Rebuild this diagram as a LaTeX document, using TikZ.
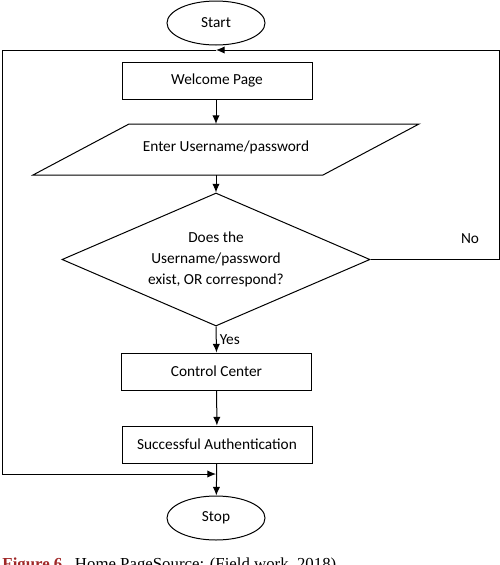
\documentclass[tikz,border=0pt]{standalone}
\usepackage{fontspec}
\setmainfont{Carlito}
\newfontfamily\capfont{Liberation Serif}
\usetikzlibrary{shapes.geometric,arrows.meta}
\definecolor{capred}{RGB}{160,40,40}

\begin{document}
\begin{tikzpicture}[x=0.75pt,y=-0.75pt,line width=0.75pt,
    font=\fontsize{11.5pt}{16pt}\selectfont,
    box/.style={rectangle,draw,minimum width=142.5pt,minimum height=27.75pt},
    term/.style={ellipse,draw,minimum width=73.5pt,minimum height=33pt},
    decide/.style={diamond,draw,aspect=2.3,minimum width=231pt,minimum height=99.75pt,
      align=center,inner sep=0pt},
    arr/.style={-{Latex[length=6.5pt,width=5.5pt]}}]
                    \useasboundingbox (0,0) rectangle (500,565);
                    \node[term](start) at (216,23){Start};
                    \node[box](welcome) at (217,80.5){Welcome Page};
                    % input/output step
                    \coordinate(enterTL) at (129,124);
                    \coordinate(enterTR) at (419,124);
                    \coordinate(enterBR) at (323,175);
                    \coordinate(enterBL) at (33,175);
                    \draw(enterTL) -- (enterTR) -- (enterBR) -- (enterBL) -- cycle;
                    \node(enter) at (226,147.5){Enter Username/password};
                    \node[decide](check) at (216,259.5){Does the\\Username/password\\exist, OR correspond?};
                    \node[box](control) at (216.5,371.5){Control Center};
                    \node[box](success) at (217,444.5){Successful Authentication};
                    \node[term](stop) at (216,518){Stop};
                    \node(no) at (470,239){No};
                    \node[anchor=west,inner sep=1pt](yes) at (218,340){Yes};
                    % loop corners
                    \coordinate(topleft) at (2,50);
                    \coordinate(topright) at (499,50);
                    \coordinate(botleft) at (2,474);
                    \coordinate(topin) at (216,50);
                    \coordinate(botin) at (216,474);
                    \draw[arr](welcome.south -| check.north) -- (enterTL -| check.north);
                    \draw[arr](enterBL -| check.north) -- (check.north);
                    \draw[arr](check.south) -- (control.north);
                    \draw[arr](control) -- (success);
                    \draw[arr](success) -- (stop);
                    \draw[arr](check.east) -- (topright |- check.east) -- (topright) -- (topin);
                    \draw[arr](topin) -- (topleft) -- (botleft) -- (botin);
                    \node[anchor=base west,inner sep=0pt,font=\capfont\fontsize{12.6pt}{14pt}\selectfont](caption) at (2,569){\textcolor{capred}{\textbf{Figure 6.}}\ \ Home PageSource: (Field work, 2018)};
                \end{tikzpicture}
\end{document}
